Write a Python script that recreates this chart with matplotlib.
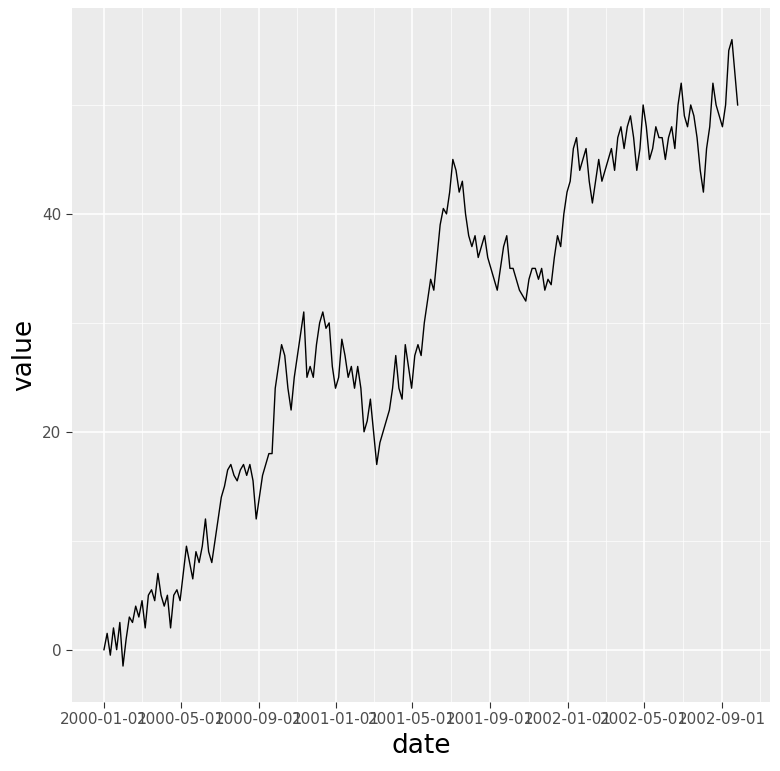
import matplotlib
matplotlib.use("Agg")
import matplotlib.pyplot as plt
import matplotlib.dates as mdates
import datetime as dt

values = [0,1.5,-0.5,2,0,2.5,-1.5,1,3,2.5,4,3,4.5,2,5,5.5,4.5,7,5,4,5,2,5,5.5,4.5,7,9.5,8,6.5,9,
8,9.5,12,9,8,10,12,14,15,16.5,17,16,15.5,16.5,17,16,17,15.5,12,14,16,17,18,18,24,26,28,27,24,22,
25,27,29,31,25,26,25,28,30,31,29.5,30,26,24,25,28.5,27,25,26,24,26,24,20,21,23,20,17,19,20,21,
22,24,27,24,23,28,26,24,27,28,27,30,32,34,33,36,39,40.5,40,42,45,44,42,43,40,38,37,38,36,37,
38,36,35,34,33,35,37,38,35,35,34,33,32.5,32,34,35,35,34,35,33,34,33.5,36,38,37,40,42,43,46,47,
44,45,46,43,41,43,45,43,44,45,46,44,47,48,46,48,49,47,44,46,50,48,45,46,48,47,47,45,47,48,46,
50,52,49,48,50,49,47,44,42,46,48,52,50,49,48,50,55,56,50]
tick_labels = ["2000-01-01","2000-05-01","2000-09-01","2001-01-01","2001-05-01",
               "2001-09-01","2002-01-01","2002-05-01","2002-09-01"]

start = dt.date(2000, 1, 1)
days = [5*i for i in range(len(values)-1)] + [999]
dates = [start + dt.timedelta(days=d) for d in days]
x = mdates.date2num(dates)
tx = [mdates.date2num(dt.date.fromisoformat(s)) for s in tick_labels]
x0 = mdates.date2num(start)

fig = plt.figure(figsize=(7.8, 7.71), dpi=100)
ax = fig.add_axes([72/780, 1-702/771, 698/780, 694/771])
ax.set_facecolor("#EBEBEB")
ax.plot(x, values, color="black", lw=1)
ax.set_xticks(tx)
ax.set_xticklabels(tick_labels)
step = tx[1] - tx[0]
mids = [(tx[i] + tx[i+1])/2 for i in range(len(tx)-1)] + [tx[-1] + step/2]
ax.set_xticks(mids, minor=True)
ax.set_yticks([0, 20, 40])
ax.set_yticks([10, 30, 50], minor=True)
ax.set_xlim(x0 - 50.4, x0 + 1050)
ax.set_ylim(-4.8, 58.9)
ax.grid(True, which="major", color="white", lw=1.1)
ax.grid(True, which="minor", color="white", lw=0.5)
ax.set_axisbelow(True)
for s in ax.spines.values():
    s.set_visible(False)
ax.tick_params(which="major", length=4, color="#333333", labelsize=11, labelcolor="#4D4D4D")
ax.tick_params(which="minor", length=0)
ax.set_xlabel("date", fontsize=19)
ax.set_ylabel("value", fontsize=19)
fig.savefig("out.png", dpi=100, facecolor="white")
